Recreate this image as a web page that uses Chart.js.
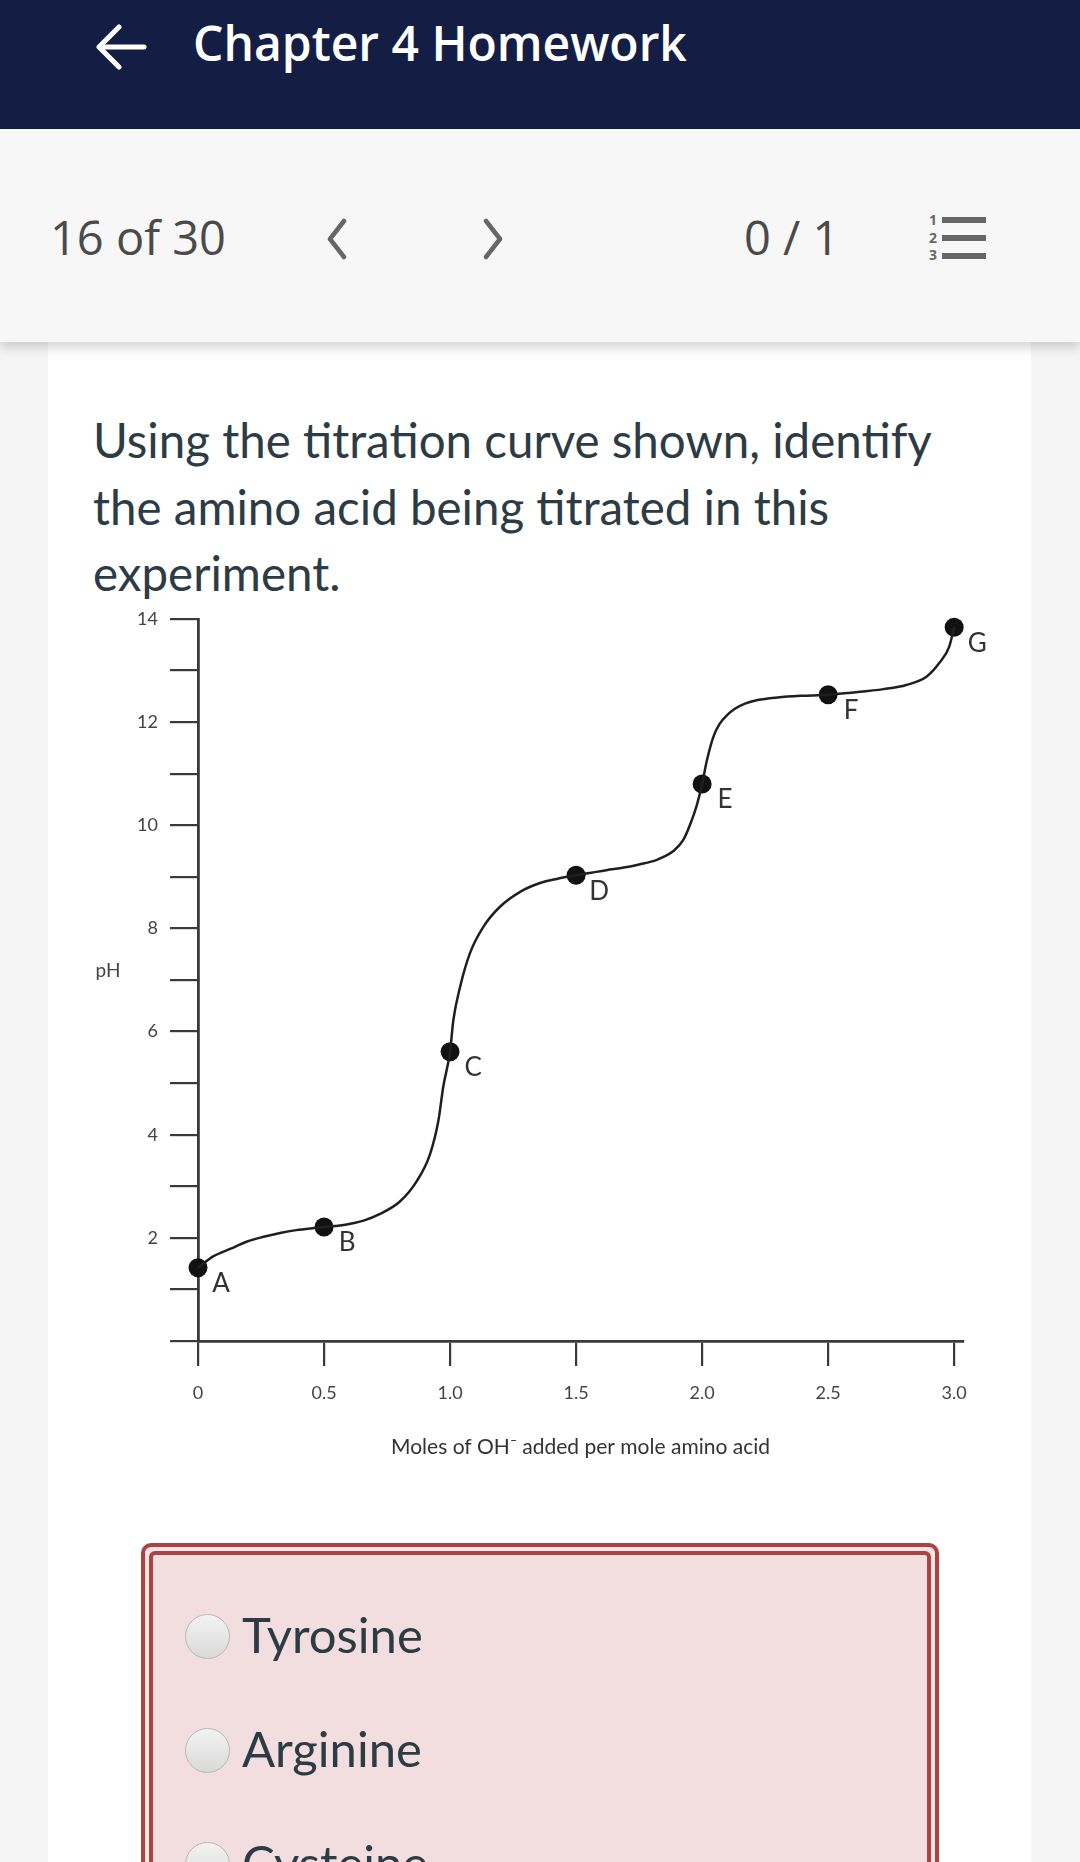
<!DOCTYPE html>
<html><head><meta charset="utf-8">
<script src="https://cdn.jsdelivr.net/npm/chart.js@4.4.1/dist/chart.umd.min.js"></script>
<style>
html,body{margin:0;padding:0;}
body{width:1080px;height:1862px;background:#f5f5f5;position:relative;overflow:hidden;font-family:Lato,sans-serif;}
#hdr{position:absolute;left:0;top:0;width:1080px;height:129px;background:#141e44;}
#hdr .title{position:absolute;left:193px;top:19px;font:600 48px 'Open Sans';line-height:48px;color:#fff;white-space:nowrap;}
#hdr svg{position:absolute;left:95px;top:24px;}
#nav{position:absolute;left:0;top:129px;width:1080px;height:213px;background:#f7f7f7;box-shadow:0 6px 10px rgba(0,0,0,0.16);z-index:2;}
.navtxt{position:absolute;font:400 47px 'Open Sans';line-height:47px;color:#4a4a4a;white-space:nowrap;}
#card{position:absolute;left:48px;top:342px;width:983px;height:1600px;background:#fff;}
#q{position:absolute;left:93px;top:407px;font:400 47.5px Lato;line-height:66.5px;color:#2d3b45;white-space:nowrap;}
#chartbox{position:absolute;left:48px;top:590px;width:983px;height:900px;}
#opts{position:absolute;left:141px;top:1543px;width:798px;height:500px;border:4px solid #a94442;border-radius:10px;background:#f9e5e5;padding:4px;box-sizing:border-box;}
#opts .inner{width:100%;height:100%;border:4px solid #a94442;border-radius:6px;background:#f2dede;box-sizing:border-box;position:relative;}
.opt{position:absolute;left:89px;font:400 49px Lato;line-height:49px;color:#2d3b45;white-space:nowrap;}
.radio{position:absolute;left:32px;width:45px;height:45px;border-radius:50%;border:1px solid #b8b8b8;background:linear-gradient(#f3f3f3,#d9d9d9);box-sizing:border-box;}
</style></head>
<body>
<div id="hdr">
  <svg width="52" height="46" viewBox="0 0 52 46"><polyline points="24,3 4,23 24,43" fill="none" stroke="#fff" stroke-width="5" stroke-linecap="round" stroke-linejoin="round"/><line x1="5" y1="23" x2="49" y2="23" stroke="#fff" stroke-width="5" stroke-linecap="round"/></svg>
  <div class="title">Chapter 4 Homework</div>
</div>
<div id="nav">
  <div class="navtxt" style="left:50px;top:85px;">16 of 30</div>
  <svg style="position:absolute;left:322px;top:88px" width="30" height="44"><polyline points="22,4 8,22 22,40" fill="none" stroke="#666" stroke-width="4.5" stroke-linecap="round" stroke-linejoin="round"/></svg>
  <svg style="position:absolute;left:478px;top:88px" width="30" height="44"><polyline points="8,4 22,22 8,40" fill="none" stroke="#666" stroke-width="4.5" stroke-linecap="round" stroke-linejoin="round"/></svg>
  <div class="navtxt" style="left:744px;top:85px;">0 / 1</div>
  <svg style="position:absolute;left:929px;top:84px" width="60" height="48">
    <text x="0" y="12" font-family="Open Sans" font-size="14" font-weight="700" fill="#666">1</text>
    <text x="0" y="30" font-family="Open Sans" font-size="14" font-weight="700" fill="#666">2</text>
    <text x="0" y="47" font-family="Open Sans" font-size="14" font-weight="700" fill="#666">3</text>
    <rect x="13" y="4" width="44" height="6" fill="#666"/>
    <rect x="13" y="22" width="44" height="6" fill="#666"/>
    <rect x="13" y="40" width="44" height="6" fill="#666"/>
  </svg>
</div>
<div id="card"></div>
<div id="q">Using the titration curve shown, identify<br>the amino acid being titrated in this<br>experiment.</div>
<div id="chartbox"><canvas id="c"></canvas></div>
<div id="opts"><div class="inner">
  <div class="radio" style="top:59px"></div><div class="opt" style="top:55px">Tyrosine</div>
  <div class="radio" style="top:173px"></div><div class="opt" style="top:169px">Arginine</div>
  <div class="radio" style="top:287px"></div><div class="opt" style="top:283px">Cysteine</div>
</div></div>
<script>
// Titration curve (moles OH- per mole amino acid, pH)
const curveX = [0,0.06,0.13,0.19,0.26,0.33,0.39,0.46,0.5,0.59,0.66,0.72,0.80,0.868,0.921,0.954,0.973,1.0,1.013,1.04,1.079,1.132,1.198,1.278,1.357,1.423,1.5,1.56,1.62,1.69,1.75,1.82,1.886,1.926,1.959,1.979,2.0,2.019,2.045,2.07,2.1,2.13,2.17,2.22,2.3,2.39,2.5,2.59,2.72,2.81,2.89,2.94,2.98,3.0];
const curvePH = [1.42,1.64,1.79,1.92,2.02,2.10,2.15,2.19,2.21,2.26,2.34,2.46,2.70,3.10,3.63,4.28,4.93,5.61,6.22,6.87,7.52,8.03,8.42,8.71,8.88,8.96,9.03,9.08,9.13,9.18,9.24,9.33,9.50,9.72,10.10,10.39,10.80,11.26,11.72,11.97,12.14,12.26,12.36,12.43,12.48,12.51,12.53,12.57,12.64,12.72,12.88,13.14,13.46,13.84];
// Labelled points
const markerLabels = ['A','B','C','D','E','F','G'];
const markerX = [0,0.5,1.0,1.5,2.0,2.5,3.0];
const markerPH = [1.42,2.21,5.61,9.03,10.80,12.53,13.84];
// Axis ticks
const xTicks = [0,0.5,1.0,1.5,2.0,2.5,3.0];
const xTickLabels = ['0','0.5','1.0','1.5','2.0','2.5','3.0'];
const yTicks = [0,1,2,3,4,5,6,7,8,9,10,11,12,13,14];
const yTickLabels = ['','','2','','4','','6','','8','','10','','12','','14'];
const xTitle = 'Moles of OH\u207B added per mole amino acid';
const yTitle = 'pH';

const AXIS = '#3a3a3a';
const labelPlugin = {
  id: 'pointLetters',
  afterDatasetsDraw(chart) {
    const ctx = chart.ctx;
    const meta = chart.getDatasetMeta(1);
    ctx.save();
    ctx.font = '400 26px Lato';
    ctx.fillStyle = '#333';
    ctx.textAlign = 'center';
    ctx.textBaseline = 'middle';
    meta.data.forEach((pt, i) => { ctx.fillText(markerLabels[i], pt.x + 23, pt.y + 16); });
    // pH title, horizontal, centred on the y scale
    const ys = chart.scales.y;
    ctx.font = '400 19px Lato';
    ctx.fillStyle = '#444';
    ctx.fillText(yTitle, ys.left + 60, (ys.top + ys.bottom) / 2 - 9);
    ctx.restore();
  }
};

new Chart(document.getElementById('c'), {
  type: 'line',
  data: {
    datasets: [
      {
        data: curveX.map((x, i) => ({x, y: curvePH[i]})),
        borderColor: '#1f1f1f', borderWidth: 2.5, pointRadius: 0,
        cubicInterpolationMode: 'monotone', fill: false, clip: false
      },
      {
        data: markerX.map((x, i) => ({x, y: markerPH[i]})),
        showLine: false, pointRadius: 9.5, pointBackgroundColor: '#111',
        pointBorderWidth: 0, clip: false
      }
    ]
  },
  options: {
    responsive: true, maintainAspectRatio: false, animation: false,
    layout: {padding: {left: 0, top: 29, right: 68, bottom: 0}},
    plugins: {legend: {display: false}, tooltip: {enabled: false}},
    scales: {
      x: {
        type: 'linear', min: 0, max: 3.035,
        afterBuildTicks: s => { s.ticks = xTicks.map(v => ({value: v})); },
        afterFit: s => { s.height = 149; s.paddingLeft = 0; s.paddingRight = 0; s.paddingTop = 0; s.paddingBottom = 0; },
        ticks: {
          autoSkip: false, maxRotation: 0, padding: 16, color: '#444',
          font: {family: 'Lato', size: 18},
          callback: (v) => xTickLabels[xTicks.indexOf(v)] ?? ''
        },
        grid: {drawOnChartArea: false, drawTicks: true, tickLength: 25, color: AXIS, lineWidth: 2.2},
        border: {display: true, color: AXIS, width: 2.8},
        title: {display: true, text: xTitle, color: '#333', font: {family: 'Lato', size: 21}, padding: {top: 0, bottom: 30}}
      },
      y: {
        type: 'linear', min: 0, max: 14,
        afterBuildTicks: s => { s.ticks = yTicks.map(v => ({value: v})); },
        afterFit: s => { s.width = 150; s.paddingLeft = 0; s.paddingRight = 0; s.paddingTop = 0; s.paddingBottom = 0; },
        ticks: {
          autoSkip: false, padding: 12, color: '#444',
          font: {family: 'Lato', size: 18},
          callback: (v) => yTickLabels[yTicks.indexOf(v)] ?? ''
        },
        grid: {drawOnChartArea: false, drawTicks: true, tickLength: 28, color: AXIS, lineWidth: 2.2},
        border: {display: true, color: AXIS, width: 2.8}
      }
    }
  },
  plugins: [labelPlugin]
});
</script>
</body></html>
